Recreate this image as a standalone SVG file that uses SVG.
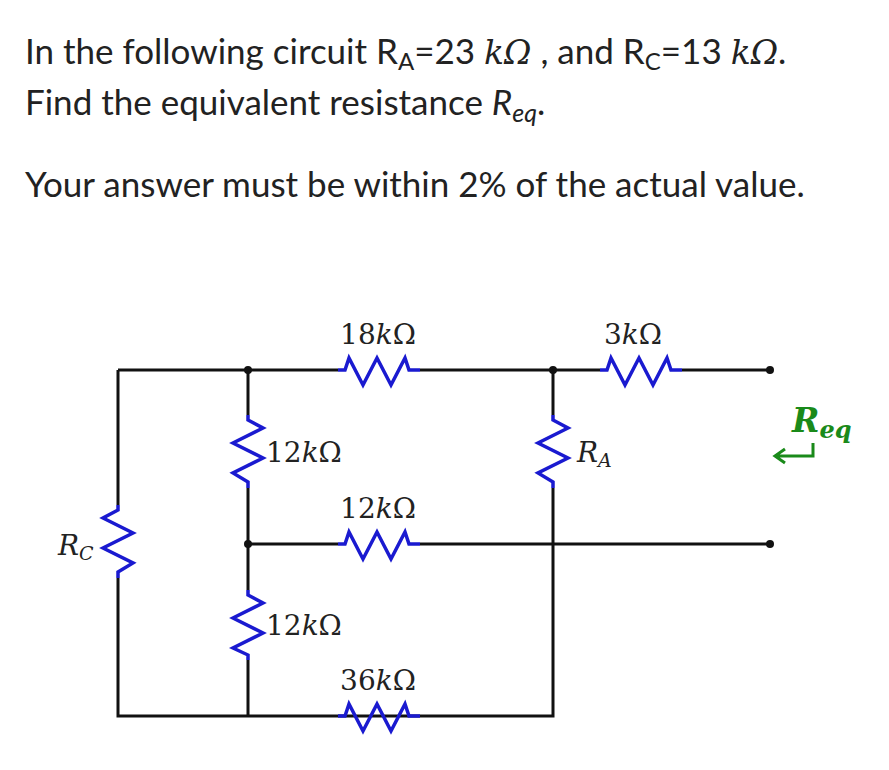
<svg xmlns="http://www.w3.org/2000/svg" width="889" height="770" viewBox="0 0 889 770">
<style>
.t{font-family:Lato,"Open Sans",sans-serif;font-size:35px;fill:#222}
.m{font-family:"DejaVu Serif","Liberation Serif",serif;font-size:28px;fill:#222}
.w{stroke:#111;stroke-width:3;fill:none}
.r{stroke:#1a1ad0;stroke-width:3.5;fill:none;stroke-linejoin:miter}
.d{fill:#111}
</style>
<rect width="889" height="770" fill="#fff"/>
<text class="t" x="25" y="64">In the following circuit R<tspan font-size="24" dy="6">A</tspan><tspan dy="-6">=23 </tspan><tspan font-style="italic" font-family="DejaVu Serif" font-size="33">kΩ</tspan> , and R<tspan font-size="24" dy="6">C</tspan><tspan dy="-6">=13 </tspan><tspan font-style="italic" font-family="DejaVu Serif" font-size="33">kΩ</tspan>.</text>
<text class="t" x="25" y="115">Find the equivalent resistance <tspan font-style="italic">R</tspan><tspan font-style="italic" font-size="25" dy="7">eq</tspan><tspan dy="-7">.</tspan></text>
<text class="t" x="25" y="197">Your answer must be within 2% of the actual value.</text>
<g id="wires">
<path class="w" d="M118 370H338M420 370H600M682 370H770M118 370V505M118 578V716H553V488M553 370V415M248 370V415M248 488V590M248 660V716M248 544H338M420 544H770"/>
</g>
<g id="resistors">
<path class="r" d="M338 370H345L349 358L363 385L377 358L391 385L405 358L409 370H420"/>
<path class="r" d="M338 544H345L349 532L363 559L377 532L391 559L405 532L409 544H420"/>
<path class="r" d="M338 716H345L349 704L363 731L377 704L391 731L405 704L409 716H420"/>
<path class="r" d="M600 370H607L611 358L625 385L639 358L653 385L667 358L671 370H682"/>
<path class="r" d="M248 415V420L263 428L233 443L263 458L233 473L248 482V488"/>
<path class="r" d="M248 590V595L263 603L233 618L263 633L233 648L248 655V660"/>
<path class="r" d="M553 415V420L568 428L538 443L568 458L538 473L553 482V488"/>
<path class="r" d="M118 505V510L103 518L133 533L103 548L133 563L118 572V578"/>
</g>
<g id="dots">
<circle class="d" cx="248" cy="370" r="4"/><circle class="d" cx="248" cy="544" r="4"/><circle class="d" cx="553" cy="370" r="4"/><circle class="d" cx="770" cy="370" r="4"/><circle class="d" cx="770" cy="544" r="4"/>
</g>
<g id="labels">
<text class="m" x="378" y="344" text-anchor="middle">18<tspan font-style="italic">k</tspan>Ω</text>
<text class="m" x="633" y="344" text-anchor="middle">3<tspan font-style="italic">k</tspan>Ω</text>
<text class="m" x="266" y="462">12<tspan font-style="italic">k</tspan>Ω</text>
<text class="m" x="378" y="518" text-anchor="middle">12<tspan font-style="italic">k</tspan>Ω</text>
<text class="m" x="266" y="635">12<tspan font-style="italic">k</tspan>Ω</text>
<text class="m" x="378" y="690" text-anchor="middle">36<tspan font-style="italic">k</tspan>Ω</text>
<text class="m" x="58" y="555" font-style="italic">R<tspan font-size="19" dy="5">C</tspan></text>
<text class="m" x="577" y="462" font-style="italic">R<tspan font-size="19" dy="5">A</tspan></text>
<text x="792" y="432" font-family="DejaVu Serif" font-weight="bold" font-style="italic" font-size="33" fill="#1a8a1a">R<tspan font-size="24" dy="6">eq</tspan></text>
<path d="M813 443V456H775M785 449L775 456L785 463" stroke="#1a8a1a" stroke-width="3" fill="none"/>
</g>
</svg>
